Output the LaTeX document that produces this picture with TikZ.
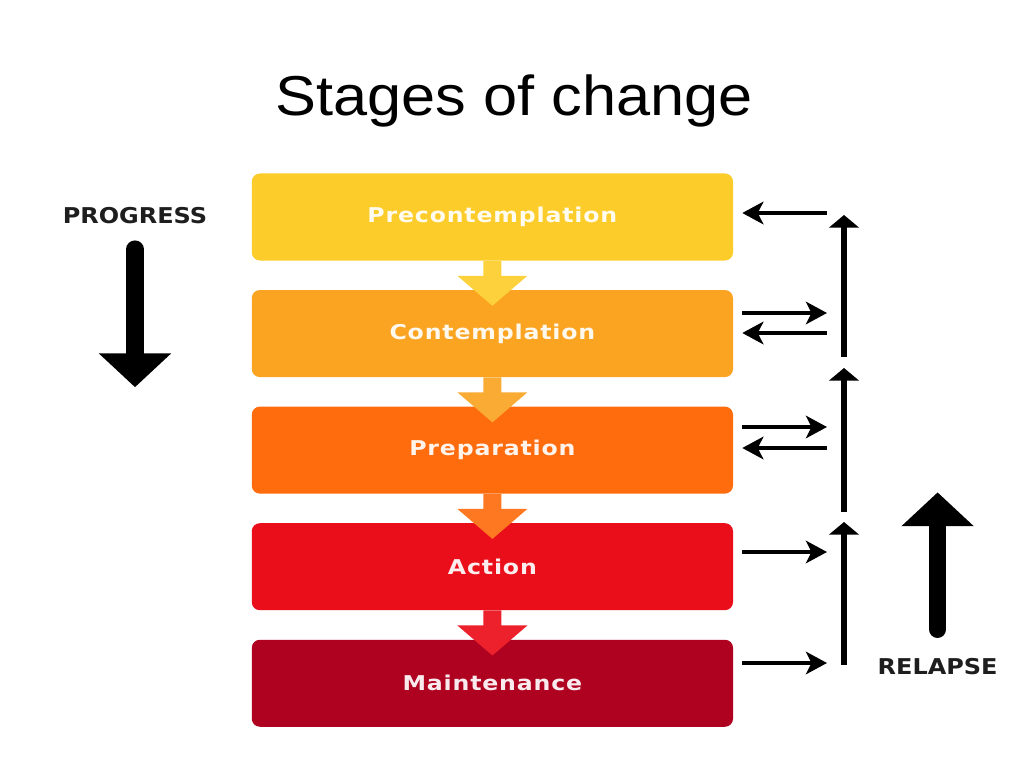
\documentclass[tikz,border=0pt]{standalone}
\usepackage{fontspec}
\setmainfont{Liberation Sans}
\newfontfamily\stagefont[FakeStretch=1.16,LetterSpace=4]{DejaVu Sans}
\newfontfamily\sidefont[FakeStretch=1.1]{DejaVu Sans}
\newfontfamily\titlefont[FakeStretch=1.09]{Liberation Sans}
\usetikzlibrary{arrows.meta,positioning}
\definecolor{stageyellow}{RGB}{252,205,42}
\definecolor{stageamber}{RGB}{250,164,34}
\definecolor{stageorange}{RGB}{254,108,14}
\definecolor{stagered}{RGB}{234,14,26}
\definecolor{stagemaroon}{RGB}{174,2,32}
\definecolor{sidegray}{RGB}{30,30,30}

\begin{document}
\begin{tikzpicture}[
  node distance=0.725cm,
  stage/.style={rounded corners=2mm, minimum width=12.03cm, minimum height=2.175cm,
    font=\stagefont\bfseries\fontsize{14.5}{17}\selectfont, text=white!92!#1, fill=#1},
  sidelabel/.style={font=\sidefont\bfseries\fontsize{15.5}{18}\selectfont, text=sidegray},
  bigarrow/.style={-{Triangle[width=50pt,length=24pt]}, line width=12.5pt, line cap=round},
  harrow/.style={-{Stealth[width=16pt,length=15pt,inset=4pt]}, line width=3.3pt},
  varrow/.style={-{Triangle[width=21pt,length=9pt]}, line width=3.9pt}
]
\useasboundingbox (0,0) rectangle (25.6,-19.2);

\node[font=\titlefont\fontsize{40}{46}\selectfont, anchor=base] (title) at (12.85,-2.9) {Stages of change};

\node[stage=stageyellow] (pre) at (12.31,-5.425) {Precontemplation};
\node[stage=stageamber, below=of pre] (con) {Contemplation};
\node[stage=stageorange, below=of con] (prep) {Preparation};
\node[stage=stagered, below=of prep] (act) {Action};
\node[stage=stagemaroon, below=of act] (main) {Maintenance};

% chevrons between the stages
\foreach \a/\col in {pre/stageyellow, con/stageamber, prep/stageorange, act/stagered}
  \fill[\col!92!white] ([xshift=-0.225cm]\a.south) -- ++(0,-0.375) -- ++(-0.65,0)
    -- ++(0.875,-0.75) -- ++(0.875,0.75) -- ++(-0.65,0) -- ++(0,0.375) -- cycle;

% progress
\node[sidelabel] (progress) at (3.375,-5.4) {PROGRESS};
\coordinate[below=0.5cm of progress] (progtop);
\coordinate[below=3.45cm of progtop] (progtip);
\draw[bigarrow] (progtop) -- (progtip);

% relapse
\node[sidelabel] (relapse) at (23.44,-16.66) {RELAPSE};
\coordinate[above=0.6cm of relapse] (relbot);
\coordinate[above=3.42cm of relbot] (reltip);
\draw[bigarrow] (relbot) -- (reltip);

% rail on the right
\coordinate (r1) at (20.675,-5.325);
\coordinate (r2a) at (20.675,-7.825);
\coordinate (r2b) at (20.675,-8.325);
\coordinate (r3a) at (20.675,-10.675);
\coordinate (r3b) at (20.675,-11.2);
\coordinate (r4) at (20.675,-13.8);
\coordinate (r5) at (20.675,-16.575);

\draw[harrow] (r1) -- ([xshift=0.225cm]pre.east |- r1);
\draw[harrow] ([xshift=0.225cm]con.east |- r2a) -- (r2a);
\draw[harrow] (r2b) -- ([xshift=0.225cm]con.east |- r2b);
\draw[harrow] ([xshift=0.225cm]prep.east |- r3a) -- (r3a);
\draw[harrow] (r3b) -- ([xshift=0.225cm]prep.east |- r3b);
\draw[harrow] ([xshift=0.225cm]act.east |- r4) -- (r4);
\draw[harrow] ([xshift=0.225cm]main.east |- r5) -- (r5);

\coordinate (v1a) at (21.1,-8.925);
\coordinate (v1b) at (21.1,-5.375);
\coordinate (v2a) at (21.1,-12.8);
\coordinate (v2b) at (21.1,-9.2);
\coordinate (v3a) at (21.1,-16.625);
\coordinate (v3b) at (21.1,-13.05);
\draw[varrow] (v1a) -- (v1b);
\draw[varrow] (v2a) -- (v2b);
\draw[varrow] (v3a) -- (v3b);

\end{tikzpicture}
\end{document}
